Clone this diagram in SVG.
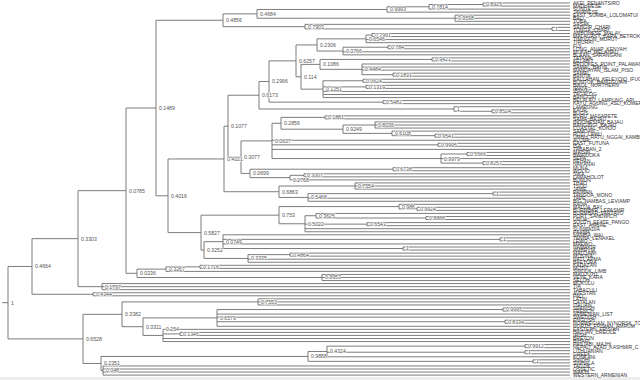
<svg xmlns="http://www.w3.org/2000/svg" width="640" height="380" viewBox="0 0 640 380">
<style>
.e{fill:none;stroke:#6e6e6e;stroke-width:0.9}
.n{font-family:"Liberation Sans",Arial,sans-serif;font-size:5.2px;fill:#555;paint-order:stroke;stroke:#fff;stroke-width:1.2px}
.l{font-family:"Liberation Sans",Arial,sans-serif;font-size:5px;fill:#333}
</style>
<rect width="640" height="380" fill="#fff"/>
<rect x="0" y="377" width="640" height="3" fill="#ececec"/>
<g id="connectors">
<path class="e" d="M483,3V6.05M483,3H570M483,6.05H570"/>
<path class="e" d="M429,4.53V9.1M429,4.53H483M429,9.1H570"/>
<path class="e" d="M387,6.81V12.15M387,6.81H429M387,12.15H570"/>
<path class="e" d="M455,15.2V21.3M455,15.2H570M455,18.25H570M455,21.3H570"/>
<path class="e" d="M257,9.48V18.25M257,9.48H387M257,18.25H455"/>
<path class="e" d="M552,27.4V30.45M552,27.4H570M552,30.45H570"/>
<path class="e" d="M305,24.35V28.93M305,24.35H570M305,28.93H552"/>
<path class="e" d="M223,13.87V26.64M223,13.87H257M223,26.64H305"/>
<path class="e" d="M372,33.5V36.55M372,33.5H570M372,36.55H570"/>
<path class="e" d="M366,35.03V42.65M366,35.03H372M366,39.6H570M366,42.65H570"/>
<path class="e" d="M388,45.7V48.75M388,45.7H570M388,48.75H570"/>
<path class="e" d="M343,47.23V54.85M343,47.23H388M343,51.8H570M343,54.85H570"/>
<path class="e" d="M317,38.84V51.04M317,38.84H366M317,51.04H343"/>
<path class="e" d="M432,57.9V60.95M432,57.9H570M432,60.95H570"/>
<path class="e" d="M393,73.15V76.2M393,73.15H570M393,76.2H570"/>
<path class="e" d="M362,64V74.68M362,64H570M362,67.05H570M362,70.1H570M362,74.68H393"/>
<path class="e" d="M320,59.43V69.34M320,59.43H432M320,69.34H362"/>
<path class="e" d="M363,79.25V82.3M363,79.25H570M363,82.3H570"/>
<path class="e" d="M366,85.35V88.4M366,85.35H570M366,88.4H570"/>
<path class="e" d="M323,80.78V97.55M323,80.78H363M323,86.88H366M323,91.45H570M323,94.5H570M323,97.55H570"/>
<path class="e" d="M301,64.39V89.17M301,64.39H320M301,89.17H323"/>
<path class="e" d="M296,44.94V76.78M296,44.94H317M296,76.78H301"/>
<path class="e" d="M383,100.6V103.65M383,100.6H570M383,103.65H570"/>
<path class="e" d="M269,60.86V102.13M269,60.86H296M269,102.13H383"/>
<path class="e" d="M492,109.75V112.8M492,109.75H570M492,112.8H570"/>
<path class="e" d="M454,106.7V111.28M454,106.7H570M454,111.28H492"/>
<path class="e" d="M259,81.49V108.99M259,81.49H269M259,108.99H454"/>
<path class="e" d="M325,115.85V118.9M325,115.85H570M325,118.9H570"/>
<path class="e" d="M375,121.95V128.05M375,121.95H570M375,125H570M375,128.05H570"/>
<path class="e" d="M435,134.15V137.2M435,134.15H570M435,137.2H570"/>
<path class="e" d="M392,131.1V135.68M392,131.1H570M392,135.68H435"/>
<path class="e" d="M343,125V133.39M343,125H375M343,133.39H392"/>
<path class="e" d="M281,117.38V129.2M281,117.38H325M281,129.2H343"/>
<path class="e" d="M438,143.3V146.35M438,143.3H570M438,146.35H570"/>
<path class="e" d="M467,152.45V155.5M467,152.45H570M467,155.5H570"/>
<path class="e" d="M483,161.6V164.65M483,161.6H570M483,164.65H570"/>
<path class="e" d="M441,153.98V163.13M441,153.98H467M441,158.55H570M441,163.13H483"/>
<path class="e" d="M272,123.29V158.55M272,123.29H281M272,140.25H570M272,144.83H438M272,149.4H570M272,158.55H441"/>
<path class="e" d="M393,167.7V170.75M393,167.7H570M393,170.75H570"/>
<path class="e" d="M304,173.8V176.85M304,173.8H570M304,176.85H570"/>
<path class="e" d="M290,175.33V179.9M290,175.33H304M290,179.9H570"/>
<path class="e" d="M250,169.23V177.61M250,169.23H393M250,177.61H290"/>
<path class="e" d="M241,140.92V173.42M241,140.92H272M241,173.42H250"/>
<path class="e" d="M228,95.24V157.17M228,95.24H259M228,157.17H241"/>
<path class="e" d="M355,182.95V189.05M355,182.95H570M355,186H570M355,189.05H570"/>
<path class="e" d="M493,192.1V195.15M493,192.1H570M493,195.15H570"/>
<path class="e" d="M308,193.63V201.25M308,193.63H493M308,198.2H570M308,201.25H570"/>
<path class="e" d="M279,186V197.44M279,186H355M279,197.44H308"/>
<path class="e" d="M224,126.2V191.72M224,126.2H228M224,191.72H279"/>
<path class="e" d="M417,207.35V210.4M417,207.35H570M417,210.4H570"/>
<path class="e" d="M399,204.3V208.88M399,204.3H570M399,208.88H417"/>
<path class="e" d="M426,216.5V219.55M426,216.5H570M426,219.55H570"/>
<path class="e" d="M316,213.45V218.03M316,213.45H570M316,218.03H426"/>
<path class="e" d="M367,222.6V225.65M367,222.6H570M367,225.65H570"/>
<path class="e" d="M305,215.74V231.75M305,215.74H316M305,224.13H367M305,228.7H570M305,231.75H570"/>
<path class="e" d="M279,206.59V223.75M279,206.59H399M279,223.75H305"/>
<path class="e" d="M500,237.85V240.9M500,237.85H570M500,240.9H570"/>
<path class="e" d="M403,247V250.05M403,247H570M403,250.05H570"/>
<path class="e" d="M223,234.8V248.53M223,234.8H570M223,239.38H500M223,243.95H570M223,248.53H403"/>
<path class="e" d="M290,253.1V256.15M290,253.1H570M290,256.15H570"/>
<path class="e" d="M248,254.63V262.25M248,254.63H290M248,259.2H570M248,262.25H570"/>
<path class="e" d="M204,241.66V258.44M204,241.66H223M204,258.44H248"/>
<path class="e" d="M201,215.17V250.05M201,215.17H279M201,250.05H204"/>
<path class="e" d="M168,158.96V232.61M168,158.96H224M168,232.61H201"/>
<path class="e" d="M156,20.26V195.79M156,20.26H223M156,195.79H168"/>
<path class="e" d="M200,265.3V268.35M200,265.3H570M200,268.35H570"/>
<path class="e" d="M166,266.83V271.4M166,266.83H200M166,271.4H570"/>
<path class="e" d="M322,274.45V280.55M322,274.45H570M322,277.5H570M322,280.55H570"/>
<path class="e" d="M137,269.11V277.5M137,269.11H166M137,277.5H322"/>
<path class="e" d="M126,108.03V273.31M126,108.03H156M126,273.31H137"/>
<path class="e" d="M102,283.6V289.7M102,283.6H570M102,286.65H570M102,289.7H570"/>
<path class="e" d="M78,190.67V286.65M78,190.67H126M78,286.65H102"/>
<path class="e" d="M93,292.75V295.8M93,292.75H570M93,295.8H570"/>
<path class="e" d="M32,238.66V294.28M32,238.66H78M32,294.28H93"/>
<path class="e" d="M258,298.85V304.95M258,298.85H570M258,301.9H570M258,304.95H570"/>
<path class="e" d="M503,308V311.05M503,308H570M503,311.05H570"/>
<path class="e" d="M505,320.2V323.25M505,320.2H570M505,323.25H570"/>
<path class="e" d="M217,309.53V326.3M217,309.53H503M217,314.1H570M217,317.15H570M217,321.73H505M217,326.3H570"/>
<path class="e" d="M180,332.4V335.45M180,332.4H570M180,335.45H570"/>
<path class="e" d="M163,329.35V341.55M163,329.35H570M163,333.93H180M163,338.5H570M163,341.55H570"/>
<path class="e" d="M143,317.92V335.45M143,317.92H217M143,335.45H163"/>
<path class="e" d="M122,301.9V326.69M122,301.9H258M122,326.69H143"/>
<path class="e" d="M525,344.6V347.65M525,344.6H570M525,347.65H570"/>
<path class="e" d="M525,350.7V353.75M525,350.7H570M525,353.75H570"/>
<path class="e" d="M327,346.13V356.8M327,346.13H525M327,352.23H525M327,356.8H570"/>
<path class="e" d="M533,359.85V362.9M533,359.85H570M533,362.9H570"/>
<path class="e" d="M308,351.47V361.38M308,351.47H327M308,361.38H533"/>
<path class="e" d="M103,365.95V375.1M103,365.95H570M103,369H570M103,372.05H570M103,375.1H570"/>
<path class="e" d="M101,356.43V370.53M101,356.43H308M101,370.53H103"/>
<path class="e" d="M83,314.3V363.48M83,314.3H122M83,363.48H101"/>
<path class="e" d="M8,266.47V338.89M8,266.47H32M8,338.89H83M2,302.68H8"/>
</g>
<g id="node-8925"><text class="n" x="486" y="6.4">0.8925</text></g>
<g id="node-7814"><text class="n" x="432" y="8.7">0.7814</text></g>
<g id="node-9993"><text class="n" x="390" y="11.4">0.9993</text></g>
<g id="node-9598"><text class="n" x="458" y="20.2">0.9598</text></g>
<g id="node-4684"><text class="n" x="260" y="15.8">0.4684</text></g>
<g id="node-1a"><text class="n" x="555" y="30.8">1</text></g>
<g id="node-7903"><text class="n" x="308" y="28.5">0.7903</text></g>
<g id="node-4856"><text class="n" x="226" y="22.2">0.4856</text></g>
<g id="node-2991"><text class="n" x="375" y="36.9">0.2991</text></g>
<g id="node-6546"><text class="n" x="369" y="40.7">0.6546</text></g>
<g id="node-784"><text class="n" x="391" y="49.1">0.784</text></g>
<g id="node-3766"><text class="n" x="346" y="52.9">0.3766</text></g>
<g id="node-2306"><text class="n" x="320" y="46.8">0.2306</text></g>
<g id="node-9421"><text class="n" x="435" y="61.3">0.9421</text></g>
<g id="node-1831"><text class="n" x="396" y="76.6">0.1831</text></g>
<g id="node-4484"><text class="n" x="365" y="71.2">0.4484</text></g>
<g id="node-1086"><text class="n" x="323" y="66.3">0.1086</text></g>
<g id="node-0624"><text class="n" x="366" y="82.7">0.0624</text></g>
<g id="node-1319"><text class="n" x="369" y="88.8">0.1319</text></g>
<g id="node-1251"><text class="n" x="326" y="91.1">0.1251</text></g>
<g id="node-114"><text class="n" x="304" y="78.7">0.114</text></g>
<g id="node-6257"><text class="n" x="299" y="62.8">0.6257</text></g>
<g id="node-5482"><text class="n" x="386" y="104">0.5482</text></g>
<g id="node-2966"><text class="n" x="272" y="83.4">0.2966</text></g>
<g id="node-8524"><text class="n" x="495" y="113.2">0.8524</text></g>
<g id="node-1b"><text class="n" x="457" y="110.9">1</text></g>
<g id="node-6173"><text class="n" x="262" y="97.1">0.6173</text></g>
<g id="node-1881"><text class="n" x="328" y="119.3">0.1881</text></g>
<g id="node-8036"><text class="n" x="378" y="126.9">0.8036</text></g>
<g id="node-9541"><text class="n" x="438" y="137.6">0.9541</text></g>
<g id="node-6108"><text class="n" x="395" y="135.3">0.6108</text></g>
<g id="node-9249"><text class="n" x="346" y="131.1">0.9249</text></g>
<g id="node-2856"><text class="n" x="284" y="125.2">0.2856</text></g>
<g id="node-9995a"><text class="n" x="441" y="146.7">0.9995</text></g>
<g id="node-5566"><text class="n" x="470" y="155.9">0.5566</text></g>
<g id="node-8257"><text class="n" x="486" y="165">0.8257</text></g>
<g id="node-9979"><text class="n" x="444" y="160.5">0.9979</text></g>
<g id="node-0637"><text class="n" x="275" y="142.8">0.0637</text></g>
<g id="node-6738"><text class="n" x="396" y="171.1">0.6738</text></g>
<g id="node-3007"><text class="n" x="307" y="177.2">0.3007</text></g>
<g id="node-2768"><text class="n" x="293" y="181.5">0.2768</text></g>
<g id="node-0699"><text class="n" x="253" y="175.3">0.0699</text></g>
<g id="node-3077"><text class="n" x="244" y="159.1">0.3077</text></g>
<g id="node-1077"><text class="n" x="231" y="128.1">0.1077</text></g>
<g id="node-7554"><text class="n" x="358" y="187.9">0.7554</text></g>
<g id="node-1e"><text class="n" x="496" y="195.5">1</text></g>
<g id="node-5468"><text class="n" x="311" y="199.3">0.5468</text></g>
<g id="node-6863"><text class="n" x="282" y="193.6">0.6863</text></g>
<g id="node-4021"><text class="n" x="227" y="160.9">0.4021</text></g>
<g id="node-9924"><text class="n" x="420" y="210.8">0.9924</text></g>
<g id="node-986"><text class="n" x="402" y="208.5">0.986</text></g>
<g id="node-8888"><text class="n" x="429" y="219.9">0.8888</text></g>
<g id="node-3625"><text class="n" x="319" y="217.6">0.3625</text></g>
<g id="node-6543"><text class="n" x="370" y="226">0.6543</text></g>
<g id="node-5022"><text class="n" x="308" y="225.7">0.5022</text></g>
<g id="node-753"><text class="n" x="282" y="217.1">0.753</text></g>
<g id="node-1f"><text class="n" x="503" y="241.3">1</text></g>
<g id="node-1g"><text class="n" x="406" y="250.4">1</text></g>
<g id="node-0749"><text class="n" x="226" y="243.6">0.0749</text></g>
<g id="node-4864"><text class="n" x="293" y="256.5">0.4864</text></g>
<g id="node-3335"><text class="n" x="251" y="260.3">0.3335</text></g>
<g id="node-3252"><text class="n" x="207" y="252">0.3252</text></g>
<g id="node-5827"><text class="n" x="204" y="234.5">0.5827</text></g>
<g id="node-4016"><text class="n" x="171" y="197.7">0.4016</text></g>
<g id="node-1489"><text class="n" x="159" y="109.9">0.1489</text></g>
<g id="node-1716"><text class="n" x="203" y="268.7">0.1716</text></g>
<g id="node-3267"><text class="n" x="169" y="271">0.3267</text></g>
<g id="node-9953"><text class="n" x="325" y="279.4">0.9953</text></g>
<g id="node-0236"><text class="n" x="140" y="275.2">0.0236</text></g>
<g id="node-0785"><text class="n" x="129" y="192.6">0.0785</text></g>
<g id="node-1797"><text class="n" x="105" y="288.6">0.1797</text></g>
<g id="node-3303"><text class="n" x="81" y="240.6">0.3303</text></g>
<g id="node-4344"><text class="n" x="96" y="296.2">0.4344</text></g>
<g id="node-4664"><text class="n" x="35" y="268.4">0.4664</text></g>
<g id="node-7553"><text class="n" x="261" y="303.8">0.7553</text></g>
<g id="node-9995b"><text class="n" x="506" y="311.4">0.9995</text></g>
<g id="node-8334"><text class="n" x="508" y="323.6">0.8334</text></g>
<g id="node-6579"><text class="n" x="220" y="319.8">0.6579</text></g>
<g id="node-1345"><text class="n" x="183" y="335.8">0.1345</text></g>
<g id="node-254"><text class="n" x="166" y="331.2">0.254</text></g>
<g id="node-3311"><text class="n" x="146" y="328.6">0.3311</text></g>
<g id="node-3382"><text class="n" x="125" y="316.2">0.3382</text></g>
<g id="node-9912"><text class="n" x="528" y="348">0.9912</text></g>
<g id="node-1h"><text class="n" x="528" y="354.1">1</text></g>
<g id="node-4324"><text class="n" x="330" y="353.4">0.4324</text></g>
<g id="node-1i"><text class="n" x="536" y="363.3">1</text></g>
<g id="node-9888"><text class="n" x="311" y="358.3">0.9888</text></g>
<g id="node-048"><text class="n" x="106" y="372.4">0.048</text></g>
<g id="node-2351"><text class="n" x="104" y="365.4">0.2351</text></g>
<g id="node-6528"><text class="n" x="86" y="340.8">0.6528</text></g>
<g id="node-root"><text class="n" x="11" y="304.6">1</text></g>
<g id="leaves">
<g id="leaf-0"><text class="l" x="573" y="4.8">AKEI_PENANTSIRO</text></g>
<g id="leaf-1"><text class="l" x="573" y="7.85">MADURESE</text></g>
<g id="leaf-2"><text class="l" x="573" y="10.9">SUNDA</text></g>
<g id="leaf-3"><text class="l" x="573" y="13.95">JAVANESE</text></g>
<g id="leaf-4"><text class="l" x="573" y="17">EAST_SUMBA_LOLOMATUI</text></g>
<g id="leaf-5"><text class="l" x="573" y="20.05">BALI</text></g>
<g id="leaf-6"><text class="l" x="573" y="23.1">TOBA</text></g>
<g id="leaf-7"><text class="l" x="573" y="26.15">SASAK</text></g>
<g id="leaf-8"><text class="l" x="573" y="29.2">SANGIR_CHARI</text></g>
<g id="leaf-9"><text class="l" x="573" y="32.25">TONGA_CHARI</text></g>
<g id="leaf-10"><text class="l" x="573" y="35.3">AMBONESE_MALAY</text></g>
<g id="leaf-11"><text class="l" x="573" y="38.35">MALAGASY_BARA_BETROKA</text></g>
<g id="leaf-12"><text class="l" x="573" y="41.4">TIMUGON_MURUT</text></g>
<g id="leaf-13"><text class="l" x="573" y="44.45">TIRURAY</text></g>
<g id="leaf-14"><text class="l" x="573" y="47.5">FIJI</text></g>
<g id="leaf-15"><text class="l" x="573" y="50.55">LONG_ANAP_KENYAH</text></g>
<g id="leaf-16"><text class="l" x="573" y="53.6">MUKAH_MELANAU</text></g>
<g id="leaf-17"><text class="l" x="573" y="56.65">BLAAN_SARANGANI</text></g>
<g id="leaf-18"><text class="l" x="573" y="59.7">TATANA</text></g>
<g id="leaf-19"><text class="l" x="573" y="62.75">KELABIT</text></g>
<g id="leaf-20"><text class="l" x="573" y="65.8">BROOKES_POINT_PALAWAN</text></g>
<g id="leaf-21"><text class="l" x="573" y="68.85">SAMAL_BATIN</text></g>
<g id="leaf-22"><text class="l" x="573" y="71.9">MANDAYAN_ISLAM_PISO</text></g>
<g id="leaf-23"><text class="l" x="573" y="74.95">SAMAL</text></g>
<g id="leaf-24"><text class="l" x="573" y="78">BANTIK</text></g>
<g id="leaf-25"><text class="l" x="573" y="81.05">KALLAHAN_KELEYQIQ_IFUGAO</text></g>
<g id="leaf-26"><text class="l" x="573" y="84.1">BONTOK_BANGGUIAN</text></g>
<g id="leaf-27"><text class="l" x="573" y="87.15">BIKOL_NORTHERN</text></g>
<g id="leaf-28"><text class="l" x="573" y="90.2">IRAYA</text></g>
<g id="leaf-29"><text class="l" x="573" y="93.25">IBANAG</text></g>
<g id="leaf-30"><text class="l" x="573" y="96.3">TAGALOG</text></g>
<g id="leaf-31"><text class="l" x="573" y="99.35">BANGGAI</text></g>
<g id="leaf-32"><text class="l" x="573" y="102.4">BELALAU_LAMPUNG_API</text></g>
<g id="leaf-33"><text class="l" x="573" y="105.45">KAYU_AGUNG_ASLI_KOMERING</text></g>
<g id="leaf-34"><text class="l" x="573" y="108.5">LAMPUNG</text></g>
<g id="leaf-35"><text class="l" x="573" y="111.55">KAUR</text></g>
<g id="leaf-36"><text class="l" x="573" y="114.6">BUGIS</text></g>
<g id="leaf-37"><text class="l" x="573" y="117.65">BURU_MASARETE</text></g>
<g id="leaf-38"><text class="l" x="573" y="120.7">SAMA_BAJAU</text></g>
<g id="leaf-39"><text class="l" x="573" y="123.75">INDONESIAN_BAJAU</text></g>
<g id="leaf-40"><text class="l" x="573" y="126.8">BANGINGI_BAJAU</text></g>
<g id="leaf-41"><text class="l" x="573" y="129.85">COASTAL_KONJO</text></g>
<g id="leaf-42"><text class="l" x="573" y="132.9">SAMOAN</text></g>
<g id="leaf-43"><text class="l" x="573" y="135.95">ROTI_LAWU</text></g>
<g id="leaf-44"><text class="l" x="573" y="139">UMBU_RATU_NGGAI_KAMBERA</text></g>
<g id="leaf-45"><text class="l" x="573" y="142.05">ALUNE</text></g>
<g id="leaf-46"><text class="l" x="573" y="145.1">EAST_FUTUNA</text></g>
<g id="leaf-47"><text class="l" x="573" y="148.15">ISA</text></g>
<g id="leaf-48"><text class="l" x="573" y="151.2">TABABAN_2</text></g>
<g id="leaf-49"><text class="l" x="573" y="154.25">MAISIN</text></g>
<g id="leaf-50"><text class="l" x="573" y="157.3">BWAIDOKA</text></g>
<g id="leaf-51"><text class="l" x="573" y="160.35">SEPA</text></g>
<g id="leaf-52"><text class="l" x="573" y="163.4">NEHAN</text></g>
<g id="leaf-53"><text class="l" x="573" y="166.45">NAKANAI</text></g>
<g id="leaf-54"><text class="l" x="573" y="169.5">MUNA</text></g>
<g id="leaf-55"><text class="l" x="573" y="172.55">WOLIO</text></g>
<g id="leaf-56"><text class="l" x="573" y="175.6">SIKA</text></g>
<g id="leaf-57"><text class="l" x="573" y="178.65">LAMAHOLOT</text></g>
<g id="leaf-58"><text class="l" x="573" y="181.7">BUNUN</text></g>
<g id="leaf-59"><text class="l" x="573" y="184.75">THAO</text></g>
<g id="leaf-60"><text class="l" x="573" y="187.8">TSOU</text></g>
<g id="leaf-61"><text class="l" x="573" y="190.85">JAWE</text></g>
<g id="leaf-62"><text class="l" x="573" y="193.9">PAIWAN</text></g>
<g id="leaf-63"><text class="l" x="573" y="196.95">TANGOA_MONO</text></g>
<g id="leaf-64"><text class="l" x="573" y="200">TAPE</text></g>
<g id="leaf-65"><text class="l" x="573" y="203.05">BIG_NAMBAS_LEVIAMP</text></g>
<g id="leaf-66"><text class="l" x="573" y="206.1">RAGA</text></g>
<g id="leaf-67"><text class="l" x="573" y="209.15">MALUA_BAY</text></g>
<g id="leaf-68"><text class="l" x="573" y="212.2">BURMBAR_LEPASMR</text></g>
<g id="leaf-69"><text class="l" x="573" y="215.25">BURMBAR_VARTAVO</text></g>
<g id="leaf-70"><text class="l" x="573" y="218.3">PORT_SANDWICH</text></g>
<g id="leaf-71"><text class="l" x="573" y="221.35">UNUA</text></g>
<g id="leaf-72"><text class="l" x="573" y="224.4">SOUTH_EFATE_PANGO</text></g>
<g id="leaf-73"><text class="l" x="573" y="227.45">EAST_AMBAE</text></g>
<g id="leaf-74"><text class="l" x="573" y="230.5">SUNWADIA</text></g>
<g id="leaf-75"><text class="l" x="573" y="233.55">PAAMA</text></g>
<g id="leaf-76"><text class="l" x="573" y="236.6">NAMBA_WAI</text></g>
<g id="leaf-77"><text class="l" x="573" y="239.65">TANNA_LENAKEL</text></g>
<g id="leaf-78"><text class="l" x="573" y="242.7">LEWO</text></g>
<g id="leaf-79"><text class="l" x="573" y="245.75">MAEWO</text></g>
<g id="leaf-80"><text class="l" x="573" y="248.8">NAMAKIR</text></g>
<g id="leaf-81"><text class="l" x="573" y="251.85">AMBRYM</text></g>
<g id="leaf-82"><text class="l" x="573" y="254.9">MALOAWI</text></g>
<g id="leaf-83"><text class="l" x="573" y="257.95">MOSINA</text></g>
<g id="leaf-84"><text class="l" x="573" y="261">NATI_APMA</text></g>
<g id="leaf-85"><text class="l" x="573" y="264.05">BAETORA</text></g>
<g id="leaf-86"><text class="l" x="573" y="267.1">KADAZAN</text></g>
<g id="leaf-87"><text class="l" x="573" y="270.15">MOTU</text></g>
<g id="leaf-88"><text class="l" x="573" y="273.2">SINDUK_LIMB</text></g>
<g id="leaf-89"><text class="l" x="573" y="276.25">MALOUTU</text></g>
<g id="leaf-90"><text class="l" x="573" y="279.3">VEVE_KARA</text></g>
<g id="leaf-91"><text class="l" x="573" y="282.35">SELON</text></g>
<g id="leaf-92"><text class="l" x="573" y="285.4">MOKULU</text></g>
<g id="leaf-93"><text class="l" x="573" y="288.45">TIA</text></g>
<g id="leaf-94"><text class="l" x="573" y="291.5">TABACULI</text></g>
<g id="leaf-95"><text class="l" x="573" y="294.55">AVESTAN</text></g>
<g id="leaf-96"><text class="l" x="573" y="297.6">PALI</text></g>
<g id="leaf-97"><text class="l" x="573" y="300.65">LATIN</text></g>
<g id="leaf-98"><text class="l" x="573" y="303.7">CATALAN</text></g>
<g id="leaf-99"><text class="l" x="573" y="306.75">ITALIAN</text></g>
<g id="leaf-100"><text class="l" x="573" y="309.8">SPANISH</text></g>
<g id="leaf-101"><text class="l" x="573" y="312.85">FRENCH</text></g>
<g id="leaf-102"><text class="l" x="573" y="315.9">ARMENIAN_LIST</text></g>
<g id="leaf-103"><text class="l" x="573" y="318.95">SWEDISH</text></g>
<g id="leaf-104"><text class="l" x="573" y="322">ENGLISH</text></g>
<g id="leaf-105"><text class="l" x="573" y="325.05">NORWEGIAN_NYNORSK_TOTEN</text></g>
<g id="leaf-106"><text class="l" x="573" y="328.1">NORTH_FRISIAN_AMRUM</text></g>
<g id="leaf-107"><text class="l" x="573" y="331.15">EASTERN_FRISIAN</text></g>
<g id="leaf-108"><text class="l" x="573" y="334.2">HAITIAN_CREOLE</text></g>
<g id="leaf-109"><text class="l" x="573" y="337.25">IRISH</text></g>
<g id="leaf-110"><text class="l" x="573" y="340.3">BRETON</text></g>
<g id="leaf-111"><text class="l" x="573" y="343.35">BIHARI</text></g>
<g id="leaf-112"><text class="l" x="573" y="346.4">PANJABI_MAJHI</text></g>
<g id="leaf-113"><text class="l" x="573" y="349.45">NEPALI_AZAD_KASHMIR_C</text></g>
<g id="leaf-114"><text class="l" x="573" y="352.5">LITHUANIAN</text></g>
<g id="leaf-115"><text class="l" x="573" y="355.55">GREEK</text></g>
<g id="leaf-116"><text class="l" x="573" y="358.6">KONKANI</text></g>
<g id="leaf-117"><text class="l" x="573" y="361.65">SINDHI</text></g>
<g id="leaf-118"><text class="l" x="573" y="364.7">SINHALA</text></g>
<g id="leaf-119"><text class="l" x="573" y="367.75">TADZIK</text></g>
<g id="leaf-120"><text class="l" x="573" y="370.8">OSSETIC</text></g>
<g id="leaf-121"><text class="l" x="573" y="373.85">WAKHI</text></g>
<g id="leaf-122"><text class="l" x="573" y="376.9">WESTERN_ARMENIAN</text></g>
</g>
</svg>
